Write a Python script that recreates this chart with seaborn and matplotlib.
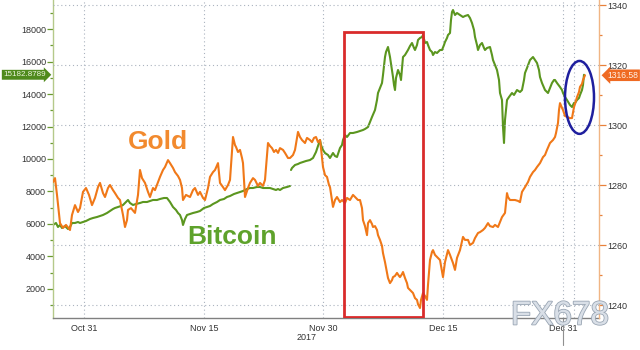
import numpy as np
import pandas as pd
import matplotlib
matplotlib.use("Agg")
import matplotlib.pyplot as plt
import seaborn as sns
from matplotlib.patches import Rectangle, Ellipse
import matplotlib.transforms as mtrans
import matplotlib.patheffects as pe

# ---------------- data (x = intraday bar index, Oct 31 = 31) ----------------
x_tick_pos = [31, 151, 270, 390, 510]
x_tick_labels = ["Oct 31", "Nov 15", "Nov 30", "Dec 15", "Dec 31"]
x_minor_pos = [96, 205, 335, 455]

btc_ticks = [2000, 4000, 6000, 8000, 10000, 12000, 14000, 16000, 18000]
gold_ticks = [1240, 1260, 1280, 1300, 1320, 1340]

gold_t = [0, 2, 4, 7, 10, 13, 17, 19, 22, 25,
          27, 30, 33, 36, 39, 42, 45, 47, 50, 52,
          55, 57, 60, 62, 65, 67, 70, 72, 74, 75,
          78, 82, 85, 87, 89, 92, 95, 97, 100, 102,
          105, 107, 110, 112, 115, 117, 120, 122, 125, 127,
          129, 130, 133, 137, 140, 142, 145, 147, 150, 152,
          155, 157, 160, 162, 165, 167, 170, 172, 175, 177,
          180, 182, 183, 185, 187, 189, 190, 192, 195, 197,
          200, 202, 205, 207, 210, 212, 215, 217, 219, 221,
          223, 225, 227, 230, 232, 235, 237, 240, 242, 245,
          247, 249, 252, 254, 257, 259, 261, 263, 265, 267,
          268, 270, 272, 274, 276, 277, 279, 280, 282, 284,
          287, 289, 292, 294, 297, 300, 302, 305, 307, 309,
          310, 312, 314, 315, 317, 319, 320, 322, 324, 325,
          327, 329, 330, 332, 334, 335, 337, 339, 340, 342,
          344, 346, 347, 349, 350, 352, 354, 355, 357, 359,
          360, 362, 364, 365, 367, 368, 370, 372, 374, 375,
          377, 379, 380, 382, 384, 387, 390, 392, 395, 397,
          400, 402, 404, 407, 410, 412, 415, 417, 420, 422,
          425, 427, 430, 432, 435, 437, 440, 442, 445, 447,
          449, 452, 454, 455, 457, 460, 462, 465, 467, 469,
          472, 475, 477, 480, 482, 484, 487, 490, 492, 494,
          497, 500, 502, 503, 505, 506, 507, 509, 510, 512,
          514, 517, 519, 521, 522, 524, 526, 527, 529, 530, 532]
gold_v = [1281.0, 1282.3, 1276.7, 1267.3, 1265.7, 1266.7, 1265.0, 1270.0, 1273.3, 1271.0,
          1272.3, 1277.7, 1279.0, 1276.7, 1273.3, 1275.7, 1279.3, 1280.7, 1277.3, 1276.0,
          1279.0, 1280.0, 1278.3, 1277.3, 1275.7, 1275.0, 1270.0, 1266.0, 1268.3, 1271.7,
          1272.3, 1270.7, 1276.7, 1285.0, 1282.3, 1280.7, 1277.7, 1276.0, 1279.0, 1278.3,
          1281.0, 1282.7, 1285.0, 1286.0, 1288.3, 1287.3, 1285.7, 1284.3, 1283.0, 1281.7,
          1279.0, 1275.0, 1276.7, 1276.0, 1278.3, 1279.0, 1276.7, 1277.7, 1275.7, 1275.0,
          1279.0, 1282.7, 1284.3, 1285.0, 1287.3, 1280.7, 1279.3, 1278.3, 1280.0, 1281.7,
          1296.0, 1293.3, 1292.7, 1291.0, 1291.7, 1289.0, 1287.3, 1276.0, 1279.0, 1280.7,
          1282.3, 1281.7, 1279.7, 1280.7, 1279.7, 1281.7, 1294.0, 1293.0, 1292.3, 1291.0,
          1291.7, 1290.7, 1292.3, 1291.7, 1290.7, 1289.0, 1289.0, 1290.0, 1291.7, 1297.7,
          1296.0, 1295.0, 1294.0, 1295.7, 1295.0, 1294.3, 1295.7, 1296.0, 1294.3, 1295.0,
          1292.3, 1286.0, 1283.3, 1282.7, 1280.0, 1279.3, 1275.0, 1272.7, 1275.0, 1276.0,
          1274.3, 1275.0, 1274.0, 1275.7, 1275.0, 1276.7, 1276.0, 1275.0, 1275.0, 1272.3,
          1268.3, 1266.3, 1263.3, 1267.3, 1268.3, 1267.0, 1266.0, 1266.3, 1265.0, 1263.3,
          1261.7, 1259.7, 1257.3, 1254.3, 1250.7, 1249.0, 1247.3, 1248.3, 1249.3, 1249.7,
          1250.7, 1249.7, 1249.3, 1250.3, 1251.0, 1249.0, 1247.3, 1245.7, 1245.0, 1244.3,
          1244.0, 1242.3, 1241.7, 1240.3, 1239.0, 1241.7, 1244.0, 1243.0, 1241.7, 1246.7,
          1255.0, 1257.7, 1258.3, 1256.7, 1256.0, 1255.0, 1249.3, 1254.3, 1258.3, 1256.7,
          1254.0, 1251.7, 1255.7, 1258.3, 1262.7, 1261.7, 1261.7, 1260.0, 1260.7, 1262.3,
          1264.0, 1264.3, 1265.0, 1265.7, 1267.3, 1266.3, 1266.0, 1266.7, 1266.0, 1267.7,
          1269.3, 1270.7, 1277.3, 1276.0, 1275.0, 1275.0, 1275.0, 1274.7, 1274.3, 1277.7,
          1279.3, 1281.0, 1282.7, 1284.3, 1285.0, 1286.0, 1287.3, 1289.3, 1290.0, 1291.7,
          1294.0, 1295.0, 1296.0, 1297.3, 1300.7, 1305.0, 1307.3, 1305.7, 1305.0, 1303.0,
          1302.7, 1302.3, 1302.3, 1306.0, 1307.0, 1309.3, 1311.0, 1312.7, 1313.7, 1315.0, 1316.58]

# bitcoin: two pieces (a short data gap before Nov 30)
btc_a_t = [0, 3, 5, 7, 9, 12, 15, 17, 19, 22,
           25, 27, 30, 33, 37, 40, 44, 47, 50, 54,
           57, 60, 62, 65, 68, 70, 73, 75, 77, 80,
           83, 87, 90, 94, 97, 100, 104, 107, 111, 114,
           117, 120, 123, 125, 127, 129, 130, 132, 134, 137,
           140, 144, 147, 151, 154, 157, 160, 164, 167, 171,
           174, 177, 181, 184, 187, 190, 194, 197, 200, 204,
           207, 210, 214, 217, 220, 223, 225, 227, 230, 234, 237]
btc_a_v = [5939, 6062, 5816, 5939, 5754, 5877, 5692, 5816, 6062, 6062,
           6123, 6062, 6123, 6185, 6308, 6369, 6431, 6492, 6554, 6677,
           6800, 6923, 6985, 7046, 7108, 7169, 7354, 7477, 7292, 7169,
           7231, 7292, 7354, 7354, 7416, 7477, 7477, 7539, 7600, 7600,
           7354, 7046, 6862, 6677, 6554, 6246, 5939, 6308, 6554, 6616,
           6677, 6739, 6800, 6985, 7046, 7108, 7231, 7354, 7477, 7539,
           7662, 7723, 7846, 7908, 7969, 8031, 8154, 8215, 8215, 8277,
           8277, 8215, 8215, 8215, 8154, 8092, 8154, 8092, 8215, 8277, 8339]
btc_b_t = [238, 239, 242, 245, 247, 250, 253, 257, 260, 263,
           265, 267, 268, 270, 272, 275, 277, 280, 282, 284,
           287, 289, 290, 292, 294, 297, 300, 304, 307, 310,
           312, 315, 317, 319, 322, 324, 325, 327, 329, 330,
           332, 333, 335, 336, 337, 339, 340, 341, 342, 343,
           345, 347, 348, 349, 350, 352, 355, 357, 359, 361,
           362, 364, 365, 367, 369, 370, 372, 374, 375, 377,
           379, 380, 382, 384, 387, 389, 391, 392, 394, 395,
           397, 398, 399, 400, 402, 404, 407, 410, 412, 415,
           417, 419, 421, 422, 424, 425, 427, 429, 431, 432,
           434, 437, 439, 440, 442, 444, 446, 447, 449, 450,
           451, 452, 454, 456, 459, 461, 464, 467, 469, 471,
           472, 474, 477, 479, 480, 482, 484, 486, 487, 489,
           492, 494, 495, 497, 499, 501, 502, 504, 507, 509,
           510, 512, 514, 517, 519, 521, 522, 524, 526, 527,
           529, 530, 531]
btc_b_v = [9323, 9446, 9631, 9692, 9754, 9815, 9877, 9938, 10062, 10431,
           10800, 11169, 10862, 10554, 10369, 10246, 10062, 10369, 10185, 10123,
           10677, 10862, 11169, 11477, 11354, 11600, 11600, 11662, 11723, 11785,
           11846, 11969, 12277, 12585, 13016, 13631, 14062, 14369, 14677, 15170,
           16277, 16585, 16893, 16585, 16277, 15477, 15046, 14554, 14246, 14985,
           15477, 15170, 14862, 15600, 16277, 16400, 16708, 16954, 17139, 16831,
           16708, 17016, 17323, 17447, 17508, 17631, 17139, 17200, 17016, 16708,
           16585, 16400, 16585, 16523, 16708, 16708, 17016, 17200, 17447, 17631,
           17754, 18554, 19046, 19169, 18862, 18985, 18862, 18739, 18800, 18862,
           18677, 18369, 17939, 17508, 17016, 16708, 17016, 17139, 16831, 16708,
           16831, 16893, 16400, 16092, 15785, 15477, 14862, 14062, 13631, 11969,
           10985, 12400, 13631, 13815, 14062, 13939, 14246, 14123, 14246, 14862,
           15293, 15600, 16092, 16216, 16277, 16092, 15908, 15477, 15046, 14677,
           14246, 14123, 14062, 14369, 14677, 14862, 14862, 14677, 14431, 14246,
           14062, 13815, 13631, 13323, 13200, 13446, 13446, 13631, 13754, 13939,
           14246, 14554, 15182.8789]

btc_last = "15182.8789"
gold_last = "1316.58"

GREEN = "#5b961f"
ORANGE = "#f07818"

# ---------------- figure ----------------
sns.set_theme(style="white")
plt.rcParams['font.family'] = ['Liberation Sans', 'DejaVu Sans']

fig = plt.figure(figsize=(6.4, 3.5), dpi=100)
fig.patch.set_facecolor("white")
ax = fig.add_axes([53 / 640, 32 / 350, 546 / 640, 318 / 350])
ax2 = ax.twinx()

btc_df = pd.DataFrame({
    "t": btc_a_t + btc_b_t,
    "v": btc_a_v + btc_b_v,
    "seg": [0] * len(btc_a_t) + [1] * len(btc_b_t),
})
gold_df = pd.DataFrame({"t": gold_t, "v": gold_v})

sns.lineplot(data=btc_df, x="t", y="v", units="seg", estimator=None,
             color=GREEN, lw=1.5, ax=ax, legend=False)
sns.lineplot(data=gold_df, x="t", y="v", estimator=None,
             color=ORANGE, lw=1.5, ax=ax2, legend=False)

ax.set_xlim(0, 546)
ax.set_ylim(215, 19785)
ax2.set_ylim(1235.67, 1341.67)
for a in (ax, ax2):
    a.set_xlabel("")
    a.set_ylabel("")

# ticks
ax.set_xticks(x_tick_pos)
ax.set_xticklabels(x_tick_labels)
ax.set_xticks(x_minor_pos, minor=True)
ax.set_yticks(btc_ticks)
ax.set_yticklabels([str(v) for v in btc_ticks])
ax.set_yticks([v + 1000 for v in [0] + btc_ticks], minor=True)
ax2.set_yticks(gold_ticks)
ax2.set_yticklabels([str(v) for v in gold_ticks])
ax2.set_yticks([v + 10 for v in gold_ticks[:-1]], minor=True)

ax.tick_params(axis="x", which="both", direction="out", length=3, width=0.8,
               color="#555555", labelsize=6.5, labelcolor="#333333", pad=1.5)
ax.tick_params(axis="x", which="minor", length=2)
ax.tick_params(axis="y", which="both", direction="out", length=4, width=0.9,
               color="#6a9a30", labelsize=6.5, labelcolor="#333333", pad=1)
ax.tick_params(axis="y", which="minor", length=2)
ax2.tick_params(axis="y", which="both", direction="out", length=5, width=0.9,
                color="#e8813a", labelsize=6.5, labelcolor="#333333", pad=1)
ax2.tick_params(axis="y", which="minor", length=2)

# grid
grid_kw = dict(color="#aab3bf", lw=0.8, ls=(0, (1, 2.5)))
ax.xaxis.grid(True, **grid_kw)
ax.yaxis.grid(False)
ax2.yaxis.grid(True, **grid_kw)
ax2.xaxis.grid(False)
ax.axvline(521, **grid_kw)

# spines
for a in (ax, ax2):
    a.spines["top"].set_visible(False)
ax.spines["right"].set_visible(False)
ax2.spines["left"].set_visible(False)
ax2.spines["bottom"].set_visible(False)
ax.spines["left"].set_color("#b5c98a")
ax.spines["left"].set_linewidth(1.0)
ax2.spines["right"].set_color("#f0b584")
ax2.spines["right"].set_linewidth(1.0)
ax.spines["bottom"].set_color("#808080")
ax.spines["bottom"].set_linewidth(1.0)

# year marker and label
ax.plot([510, 510], [0, -0.085], transform=ax.get_xaxis_transform(),
        clip_on=False, color="#909090", lw=0.8)
ax.text(0.465, -0.06, "2017", transform=ax.transAxes, ha="center", va="center",
        fontsize=6.5, color="#333333")

# annotations
ax2.add_patch(Rectangle((291, 1236.0), 79, 95.0, fill=False,
                        ec="#d92b2b", lw=2.0, zorder=6))
ax2.add_patch(Ellipse((526.5, 1309.2), 29, 24.3, fill=False,
                      ec="#1f1f9e", lw=1.8, zorder=6))

ax.text(0.192, 0.553, "Gold", transform=ax.transAxes, ha="center", va="center",
        fontsize=19, fontweight="bold", color="#f28a2e")
ax.text(0.328, 0.255, "Bitcoin", transform=ax.transAxes, ha="center", va="center",
        fontsize=19, fontweight="bold", color="#5ea22b")

# last value badges
trans_l = mtrans.blended_transform_factory(ax.transAxes, ax.transData)
ax.text(-0.013, btc_b_v[-1], btc_last, transform=trans_l, ha="right", va="center",
        fontsize=5.8, color="#eef5e0", clip_on=False, zorder=10,
        bbox=dict(boxstyle="rarrow,pad=0.18", fc="#4f8a1c", ec="none"))
trans_r = mtrans.blended_transform_factory(ax2.transAxes, ax2.transData)
ax2.text(1.016, gold_v[-1], gold_last, transform=trans_r, ha="left", va="center",
         fontsize=6.2, color="#fff1e6", clip_on=False, zorder=10,
         bbox=dict(boxstyle="larrow,pad=0.15", fc="#ef6a22", ec="none"))

# watermark
fig.text(560 / 640, (350 - 316) / 350, "FX678", ha="center", va="center",
         fontsize=24, color="#d9dfe7", zorder=20,
         path_effects=[pe.withStroke(linewidth=1.2, foreground="#9aa6b4")])

fig.savefig("out.png", dpi=100, facecolor="white")
